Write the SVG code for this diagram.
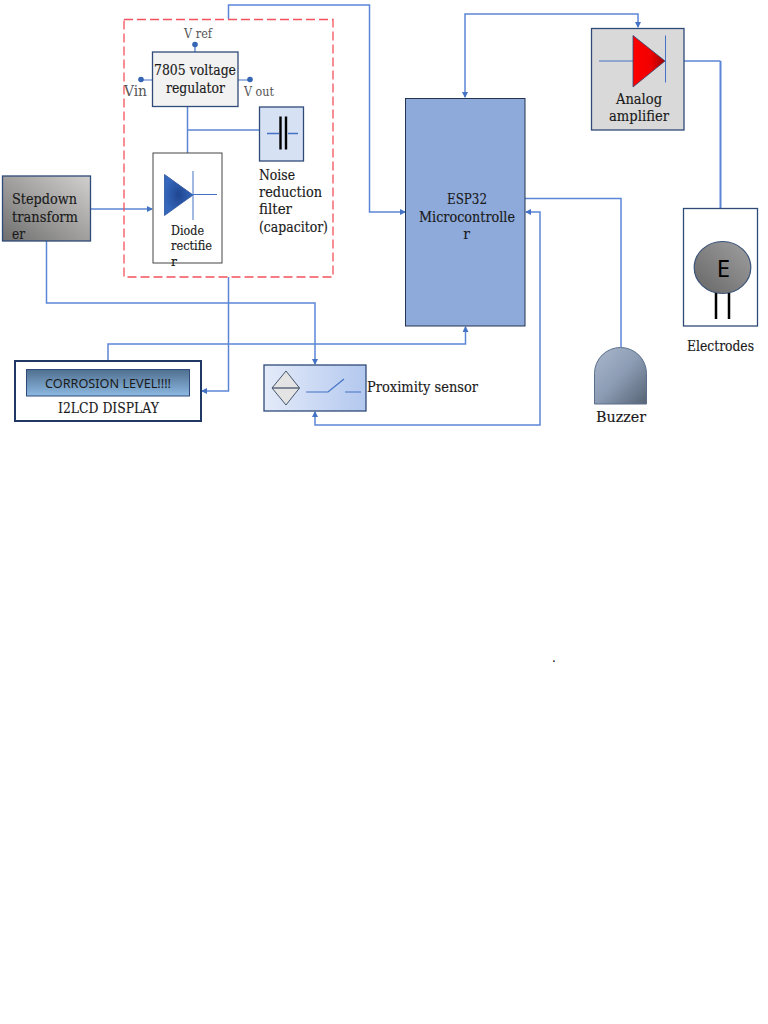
<svg xmlns="http://www.w3.org/2000/svg" width="768" height="1024" viewBox="0 0 768 1024">
<style>
text{font-family:"DejaVu Serif","Liberation Serif",serif;fill:#1a1a1a;text-anchor:middle}
.l{font-size:14px;stroke:#1a1a1a;stroke-width:.15}
.g{font-size:12.500px;fill:#555}
.s{text-anchor:start}
.c{fill:none;stroke:#5b86d6;stroke-width:1.500}
.t{fill:none;stroke:#4472c4;stroke-width:1.200}
.b{stroke:#2f4a78;stroke-width:1.300}
</style>
<defs>
<marker id="a" markerWidth="6" markerHeight="6" refX="5" refY="3" orient="auto-start-reverse" markerUnits="userSpaceOnUse"><path d="M0 0L6 3L0 6Z" fill="#4472c4"/></marker>
<linearGradient id="gt" x1="0" y1="1" x2="1" y2="0"><stop offset="0" stop-color="#6f6f6f"/><stop offset="1" stop-color="#d2d0ce"/></linearGradient>
<radialGradient id="gd"><stop offset="0" stop-color="#1f4690"/><stop offset="1" stop-color="#3568bd"/></radialGradient>
<linearGradient id="gr"><stop offset="0" stop-color="#ff0000"/><stop offset=".55" stop-color="#f00000"/><stop offset="1" stop-color="#a00000"/></linearGradient>
<linearGradient id="gp"><stop offset="0" stop-color="#e4ebf9"/><stop offset="1" stop-color="#b3c8ef"/></linearGradient>
<linearGradient id="gl" x1="0" y1="0" x2="0" y2="1"><stop offset="0" stop-color="#4f6f8f"/><stop offset="1" stop-color="#8db9e2"/></linearGradient>
<linearGradient id="gb" x1="0" y1="0" x2="1" y2="1"><stop offset="0" stop-color="#aab8cc"/><stop offset=".5" stop-color="#8c9cb4"/><stop offset="1" stop-color="#566474"/></linearGradient>
<linearGradient id="ge" x1="0" y1="1" x2="1" y2="0"><stop offset="0" stop-color="#666"/><stop offset="1" stop-color="#a0a0a0"/></linearGradient>
</defs>
<g id="connectors">
<path class="c" d="M228.500 19V5H369.500V212H405" marker-end="url(#a)"/>
<path class="c" d="M228.500 277V391H202" marker-end="url(#a)"/>
<path class="c" d="M46.500 241V303H315V364" marker-end="url(#a)"/>
<path class="c" d="M108 361V344H465.500V327" marker-end="url(#a)"/>
<path class="c" d="M526 212H540V425H315V412" marker-start="url(#a)" marker-end="url(#a)"/>
<path class="c" d="M525 198.500H621V347"/>
<path class="c" d="M465 97V14H638V27" marker-start="url(#a)" marker-end="url(#a)"/>
<path class="c" d="M665 61H720.500"/>
<path class="c" style="stroke-width:2" d="M720.500 61V208"/>
<path class="c" d="M91 209H152" marker-end="url(#a)"/>
<path class="c" d="M187.500 106V153M187.500 130H259.500"/>
</g>
<g id="power-block"><rect x="124" y="19.500" width="209" height="257.500" fill="none" stroke="#f4525c" stroke-width="1.300" stroke-dasharray="9 4"/></g>
<g id="regulator">
<path class="t" d="M195 45V52M141 80H152M238 80H250"/>
<circle cx="195" cy="44.500" r="2.800" fill="#3565b5"/><circle cx="141" cy="79.500" r="2.800" fill="#3565b5"/><circle cx="250" cy="79.500" r="2.800" fill="#3565b5"/>
<rect x="152.500" y="52" width="85.500" height="54.500" fill="#f2f2f2" class="b"/>
<text class="l" x="195" y="75" textLength="82" lengthAdjust="spacingAndGlyphs">7805 voltage</text>
<text class="l" x="195.500" y="92.500" textLength="59" lengthAdjust="spacingAndGlyphs">regulator</text>
<text class="g" x="198" y="38" textLength="28" lengthAdjust="spacingAndGlyphs">V ref</text>
<text x="135.500" y="96" style="font-size:15px;fill:#555" textLength="23" lengthAdjust="spacingAndGlyphs">Vin</text>
<text class="g" x="259" y="96" textLength="30" lengthAdjust="spacingAndGlyphs">V out</text>
</g>
<g id="rectifier">
<rect x="153" y="153" width="69" height="110" fill="#fff" stroke="#444" stroke-width="1"/>
<path d="M164.500 174.500L193 195L164.500 215.500Z" fill="url(#gd)" stroke="#2a5099" stroke-width=".8"/>
<path d="M193 171V220M193 194.500H217" fill="none" stroke="#4472c4"/>
<text class="l s" x="171" y="235" style="font-size:12.500px" textLength="33" lengthAdjust="spacingAndGlyphs">Diode</text>
<text class="l s" x="171" y="250" style="font-size:12.500px" textLength="41" lengthAdjust="spacingAndGlyphs">rectifie</text>
<text class="l s" x="171" y="266" style="font-size:12.500px">r</text>
</g>
<g id="capacitor">
<rect x="259.500" y="107" width="44" height="54" fill="#d6e1f4" class="b"/>
<path d="M267 133.500H279M288 133.500H298" stroke="#4472c4" stroke-width="1.300" fill="none"/>
<path d="M280.500 116.500V149.500M286 116.500V149.500" stroke="#000" stroke-width="2.400" fill="none"/>
<text class="l s" x="259" y="180" textLength="36" lengthAdjust="spacingAndGlyphs">Noise</text>
<text class="l s" x="259" y="197" textLength="63" lengthAdjust="spacingAndGlyphs">reduction</text>
<text class="l s" x="259" y="214" textLength="33" lengthAdjust="spacingAndGlyphs">filter</text>
<text class="l s" x="259" y="232" textLength="69" lengthAdjust="spacingAndGlyphs">(capacitor)</text>
</g>
<g id="transformer">
<rect x="2.500" y="176" width="88" height="65" fill="url(#gt)" class="b"/>
<text class="l s" x="12" y="204" textLength="65" lengthAdjust="spacingAndGlyphs">Stepdown</text>
<text class="l s" x="12" y="222" textLength="66" lengthAdjust="spacingAndGlyphs">transform</text>
<text class="l s" x="12" y="239" textLength="13" lengthAdjust="spacingAndGlyphs">er</text>
</g>
<g id="esp32">
<rect x="405.500" y="98.500" width="119.500" height="227.500" fill="#8eaadb" stroke="#24334f" stroke-width="1"/>
<text class="l" x="467" y="204" textLength="40" lengthAdjust="spacingAndGlyphs">ESP32</text>
<text class="l" x="467" y="222" textLength="96" lengthAdjust="spacingAndGlyphs">Microcontrolle</text>
<text class="l" x="466.500" y="239">r</text>
</g>
<g id="amplifier">
<rect x="591.500" y="28.500" width="92.500" height="101.500" fill="#d9d9d9" class="b"/>
<path d="M599 61H633M665.500 35.500V82.500" fill="none" stroke="#4472c4"/>
<path d="M633 35.500L665 61L633 87Z" fill="url(#gr)" stroke="#2f4a78" stroke-width=".8"/>
<text class="l" x="639" y="104" textLength="46" lengthAdjust="spacingAndGlyphs">Analog</text>
<text class="l" x="639" y="121" textLength="60" lengthAdjust="spacingAndGlyphs">amplifier</text>
</g>
<g id="electrodes">
<rect x="683.500" y="208.500" width="74" height="117.500" fill="#fff" class="b"/>
<ellipse cx="722.500" cy="267.500" rx="28.300" ry="26" fill="url(#ge)" stroke="#3a5378" stroke-width="1.200"/>
<path d="M716 293V319M729 293V319" stroke="#000" stroke-width="2.500"/>
<text x="723.500" y="277" style="font-family:'Noto Sans','DejaVu Sans',sans-serif;font-size:24px;fill:#000">E</text>
<text class="l" x="720.500" y="351" textLength="67" lengthAdjust="spacingAndGlyphs">Electrodes</text>
</g>
<g id="buzzer">
<path d="M594.500 404V373.500A26 26 0 0 1 646.500 373.500V404Z" fill="url(#gb)" stroke="#5a6e8c" stroke-width="1"/>
<text class="l" x="621" y="422" textLength="50" lengthAdjust="spacingAndGlyphs">Buzzer</text>
</g>
<g id="lcd">
<rect x="15" y="361" width="186" height="60" fill="#fff" stroke="#1f3864" stroke-width="2"/>
<rect x="26.500" y="369.500" width="163" height="26.500" fill="url(#gl)" stroke="#2f4a78"/>
<text x="108" y="388" style="font-family:'Noto Sans','DejaVu Sans',sans-serif;font-size:12.500px" textLength="126" lengthAdjust="spacingAndGlyphs">CORROSION LEVEL!!!!</text>
<text class="l" x="108.500" y="413" textLength="101" lengthAdjust="spacingAndGlyphs">I2LCD DISPLAY</text>
</g>
<g id="proximity">
<rect x="264" y="365" width="102" height="46" fill="url(#gp)" class="b"/>
<path d="M286 371L299.500 388L286 405L272 388Z" fill="#e4e4e4" stroke="#44546a" stroke-width="1"/>
<path d="M272 388H299.500" stroke="#44546a" stroke-width="1.300"/>
<path d="M306 392H328L344 379M345 392H361" fill="none" stroke="#4472c4" stroke-width="1.200"/>
<text class="l s" x="367" y="392" textLength="111" lengthAdjust="spacingAndGlyphs">Proximity sensor</text>
</g>
<text x="554" y="662" style="font-size:12px;fill:#000">.</text>
</svg>
